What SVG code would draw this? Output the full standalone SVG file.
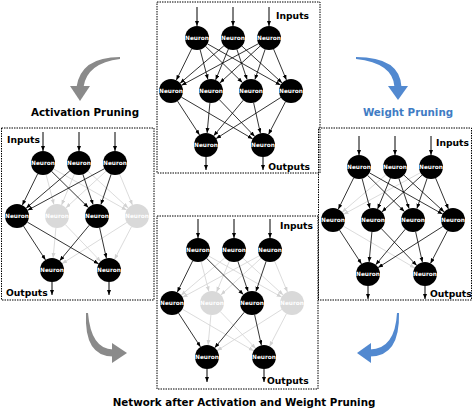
<svg xmlns="http://www.w3.org/2000/svg" width="474" height="409" viewBox="0 0 474 409">
<defs>
<marker id="ab" markerUnits="userSpaceOnUse" markerWidth="6" markerHeight="5" refX="5" refY="2" orient="auto"><path d="M0,0 L5,2 L0,4 z" fill="#000"/></marker>
<marker id="ag" markerUnits="userSpaceOnUse" markerWidth="6" markerHeight="5" refX="5" refY="2" orient="auto"><path d="M0,0 L5,2 L0,4 z" fill="#d2d2d2"/></marker>
<style>
.box{fill:none;stroke:#000;stroke-width:1;stroke-dasharray:1.5,1}
.n circle{fill:#000}
.g circle{fill:#d9d9d9}
.n text,.g text{fill:#fff;font-family:"DejaVu Sans",sans-serif;font-weight:bold;font-size:5.8px;text-anchor:middle}
.e{stroke:#000;stroke-width:0.8;marker-end:url(#ab)}
.eg{stroke:#d2d2d2;stroke-width:0.8;marker-end:url(#ag)}
.io{stroke:#000;stroke-width:1;marker-end:url(#ab)}
.lbl{font-family:"DejaVu Sans",sans-serif;font-weight:bold;font-size:9.2px;fill:#000}
.big{font-family:"DejaVu Sans",sans-serif;font-weight:bold;font-size:10.3px;text-anchor:middle}
</style>
</defs>
<rect width="474" height="409" fill="#fff"/>

<!-- boxes -->
<rect class="box" x="157" y="2" width="163" height="171"/>
<rect class="box" x="1.5" y="128" width="152.5" height="172"/>
<rect class="box" x="318.5" y="128" width="153" height="172"/>
<rect class="box" x="157" y="216" width="161" height="173"/>

<!-- big curved arrows -->
<g id="arrows">
<path d="M120,57 Q81,57 76.5,87 L83.5,87 Q87,63 120,59 Z" fill="#8a8a8a"/>
<polygon points="70,86 90,86 80,101" fill="#8a8a8a"/>
<path d="M356,57 Q400,57 401.5,87 L394.5,87 Q393,63 356,59 Z" fill="#5289d0"/>
<polygon points="388,86 408,86 398,100" fill="#5289d0"/>
<path d="M86,313 Q84,356.5 113,356.5 L113,349.5 Q91,349 88,313 Z" fill="#8a8a8a"/>
<polygon points="112,343 112,363 127,353" fill="#8a8a8a"/>
<path d="M397,313 Q395,349 370,349.5 L370,356.5 Q400,356.5 399,313 Z" fill="#5289d0"/>
<polygon points="371,343 371,363 357,353" fill="#5289d0"/>
</g>

<text class="big" x="85" y="116" fill="#000">Activation Pruning</text>
<text class="big" x="408" y="116" fill="#3f7cc4">Weight Pruning</text>
<text class="big" x="244" y="406" fill="#000">Network after Activation and Weight Pruning</text>

<!-- Top panel: original network -->
<g id="top" transform="translate(197,38)">
<g id="top-connectors">
<line class="io" x1="0" y1="-31" x2="0" y2="-12"/>
<line class="io" x1="36" y1="-31" x2="36" y2="-12"/>
<line class="io" x1="72" y1="-31" x2="72" y2="-12"/>
<line class="e" x1="-5.3" y1="10.8" x2="-20.7" y2="42.2"/>
<line class="e" x1="3.1" y1="11.6" x2="10.9" y2="41.4"/>
<line class="e" x1="8.6" y1="8.4" x2="45.4" y2="44.6"/>
<line class="e" x1="10.5" y1="5.9" x2="83.6" y2="47.1"/>
<line class="e" x1="26.9" y1="7.8" x2="-16.9" y2="45.2"/>
<line class="e" x1="31.4" y1="11.1" x2="18.6" y2="41.9"/>
<line class="e" x1="39.9" y1="11.4" x2="50.1" y2="41.6"/>
<line class="e" x1="44.9" y1="8.1" x2="85.1" y2="44.9"/>
<line class="e" x1="61.4" y1="5.7" x2="-15.4" y2="47.3"/>
<line class="e" x1="63.1" y1="8.1" x2="22.9" y2="44.9"/>
<line class="e" x1="68.1" y1="11.4" x2="57.9" y2="41.6"/>
<line class="e" x1="76.6" y1="11.1" x2="89.4" y2="41.9"/>
<line class="e" x1="-19.5" y1="63.1" x2="2.5" y2="96.9"/>
<line class="e" x1="-15.7" y1="59.1" x2="55.7" y2="100.9"/>
<line class="e" x1="12.9" y1="65" x2="10.1" y2="95"/>
<line class="e" x1="22.3" y1="61.6" x2="57.7" y2="98.4"/>
<line class="e" x1="46.3" y1="62.2" x2="16.7" y2="97.8"/>
<line class="e" x1="56.6" y1="64.7" x2="63.4" y2="95.3"/>
<line class="e" x1="83.9" y1="59.4" x2="19.1" y2="100.6"/>
<line class="e" x1="88.5" y1="63.7" x2="71.5" y2="96.4"/>
<line class="io" x1="9" y1="119" x2="9" y2="132"/>
<line class="io" x1="66" y1="119" x2="66" y2="132"/>
</g>
<g id="top-a1" class="n"><circle cx="0" cy="0" r="12"/><text x="0" y="2">Neuron</text></g>
<g id="top-a2" class="n"><circle cx="36" cy="0" r="12"/><text x="36" y="2">Neuron</text></g>
<g id="top-a3" class="n"><circle cx="72" cy="0" r="12"/><text x="72" y="2">Neuron</text></g>
<g id="top-b1" class="n"><circle cx="-26" cy="53" r="12"/><text x="-26" y="55">Neuron</text></g>
<g id="top-b2" class="n"><circle cx="14" cy="53" r="12"/><text x="14" y="55">Neuron</text></g>
<g id="top-b3" class="n"><circle cx="54" cy="53" r="12"/><text x="54" y="55">Neuron</text></g>
<g id="top-b4" class="n"><circle cx="94" cy="53" r="12"/><text x="94" y="55">Neuron</text></g>
<g id="top-c1" class="n"><circle cx="9" cy="107" r="12"/><text x="9" y="109">Neuron</text></g>
<g id="top-c2" class="n"><circle cx="66" cy="107" r="12"/><text x="66" y="109">Neuron</text></g>
</g>
<text class="lbl" x="309" y="19" text-anchor="end">Inputs</text>
<text class="lbl" x="310" y="170" text-anchor="end">Outputs</text>

<!-- Left panel: activation pruning -->
<g id="left" transform="translate(43,163)">
<g id="left-connectors">
<line class="io" x1="0" y1="-31" x2="0" y2="-12"/>
<line class="io" x1="36" y1="-31" x2="36" y2="-12"/>
<line class="io" x1="72" y1="-31" x2="72" y2="-12"/>
<line class="eg" x1="3.1" y1="11.6" x2="10.9" y2="41.4"/>
<line class="eg" x1="10.5" y1="5.9" x2="83.6" y2="47.1"/>
<line class="eg" x1="31.4" y1="11.1" x2="18.6" y2="41.9"/>
<line class="eg" x1="44.9" y1="8.1" x2="85.1" y2="44.9"/>
<line class="eg" x1="63.1" y1="8.1" x2="22.9" y2="44.9"/>
<line class="eg" x1="76.6" y1="11.1" x2="89.4" y2="41.9"/>
<line class="eg" x1="12.9" y1="65" x2="10.1" y2="95"/>
<line class="eg" x1="22.3" y1="61.6" x2="57.7" y2="98.4"/>
<line class="eg" x1="83.9" y1="59.4" x2="19.1" y2="100.6"/>
<line class="eg" x1="88.5" y1="63.7" x2="71.5" y2="96.4"/>
<line class="e" x1="-5.3" y1="10.8" x2="-20.7" y2="42.2"/>
<line class="e" x1="8.6" y1="8.4" x2="45.4" y2="44.6"/>
<line class="e" x1="26.9" y1="7.8" x2="-16.9" y2="45.2"/>
<line class="e" x1="39.9" y1="11.4" x2="50.1" y2="41.6"/>
<line class="e" x1="61.4" y1="5.7" x2="-15.4" y2="47.3"/>
<line class="e" x1="68.1" y1="11.4" x2="57.9" y2="41.6"/>
<line class="e" x1="-19.5" y1="63.1" x2="2.5" y2="96.9"/>
<line class="e" x1="-15.7" y1="59.1" x2="55.7" y2="100.9"/>
<line class="e" x1="46.3" y1="62.2" x2="16.7" y2="97.8"/>
<line class="e" x1="56.6" y1="64.7" x2="63.4" y2="95.3"/>
<line class="io" x1="9" y1="119" x2="9" y2="132"/>
<line class="io" x1="66" y1="119" x2="66" y2="132"/>
</g>
<g id="left-a1" class="n"><circle cx="0" cy="0" r="12"/><text x="0" y="2">Neuron</text></g>
<g id="left-a2" class="n"><circle cx="36" cy="0" r="12"/><text x="36" y="2">Neuron</text></g>
<g id="left-a3" class="n"><circle cx="72" cy="0" r="12"/><text x="72" y="2">Neuron</text></g>
<g id="left-b1" class="n"><circle cx="-26" cy="53" r="12"/><text x="-26" y="55">Neuron</text></g>
<g id="left-b2" class="g"><circle cx="14" cy="53" r="12"/><text x="14" y="55">Neuron</text></g>
<g id="left-b3" class="n"><circle cx="54" cy="53" r="12"/><text x="54" y="55">Neuron</text></g>
<g id="left-b4" class="g"><circle cx="94" cy="53" r="12"/><text x="94" y="55">Neuron</text></g>
<g id="left-c1" class="n"><circle cx="9" cy="107" r="12"/><text x="9" y="109">Neuron</text></g>
<g id="left-c2" class="n"><circle cx="66" cy="107" r="12"/><text x="66" y="109">Neuron</text></g>
</g>
<text class="lbl" x="7" y="143">Inputs</text>
<text class="lbl" x="6" y="296">Outputs</text>

<!-- Right panel: weight pruning -->
<g id="right" transform="translate(359,167)">
<g id="right-connectors">
<line class="io" x1="0" y1="-31" x2="0" y2="-12"/>
<line class="io" x1="36" y1="-31" x2="36" y2="-12"/>
<line class="io" x1="72" y1="-31" x2="72" y2="-12"/>
<line class="eg" x1="26.9" y1="7.8" x2="-16.9" y2="45.2"/>
<line class="eg" x1="61.4" y1="5.7" x2="-15.4" y2="47.3"/>
<line class="eg" x1="-15.7" y1="59.1" x2="55.7" y2="100.9"/>
<line class="e" x1="-5.3" y1="10.8" x2="-20.7" y2="42.2"/>
<line class="e" x1="3.1" y1="11.6" x2="10.9" y2="41.4"/>
<line class="e" x1="8.6" y1="8.4" x2="45.4" y2="44.6"/>
<line class="e" x1="10.5" y1="5.9" x2="83.6" y2="47.1"/>
<line class="e" x1="31.4" y1="11.1" x2="18.6" y2="41.9"/>
<line class="e" x1="39.9" y1="11.4" x2="50.1" y2="41.6"/>
<line class="e" x1="44.9" y1="8.1" x2="85.1" y2="44.9"/>
<line class="e" x1="63.1" y1="8.1" x2="22.9" y2="44.9"/>
<line class="e" x1="68.1" y1="11.4" x2="57.9" y2="41.6"/>
<line class="e" x1="76.6" y1="11.1" x2="89.4" y2="41.9"/>
<line class="e" x1="-19.5" y1="63.1" x2="2.5" y2="96.9"/>
<line class="e" x1="12.9" y1="65" x2="10.1" y2="95"/>
<line class="e" x1="22.3" y1="61.6" x2="57.7" y2="98.4"/>
<line class="e" x1="46.3" y1="62.2" x2="16.7" y2="97.8"/>
<line class="e" x1="56.6" y1="64.7" x2="63.4" y2="95.3"/>
<line class="e" x1="83.9" y1="59.4" x2="19.1" y2="100.6"/>
<line class="e" x1="88.5" y1="63.7" x2="71.5" y2="96.4"/>
<line class="io" x1="9" y1="119" x2="9" y2="132"/>
<line class="io" x1="66" y1="119" x2="66" y2="132"/>
</g>
<g id="right-a1" class="n"><circle cx="0" cy="0" r="12"/><text x="0" y="2">Neuron</text></g>
<g id="right-a2" class="n"><circle cx="36" cy="0" r="12"/><text x="36" y="2">Neuron</text></g>
<g id="right-a3" class="n"><circle cx="72" cy="0" r="12"/><text x="72" y="2">Neuron</text></g>
<g id="right-b1" class="n"><circle cx="-26" cy="53" r="12"/><text x="-26" y="55">Neuron</text></g>
<g id="right-b2" class="n"><circle cx="14" cy="53" r="12"/><text x="14" y="55">Neuron</text></g>
<g id="right-b3" class="n"><circle cx="54" cy="53" r="12"/><text x="54" y="55">Neuron</text></g>
<g id="right-b4" class="n"><circle cx="94" cy="53" r="12"/><text x="94" y="55">Neuron</text></g>
<g id="right-c1" class="n"><circle cx="9" cy="107" r="12"/><text x="9" y="109">Neuron</text></g>
<g id="right-c2" class="n"><circle cx="66" cy="107" r="12"/><text x="66" y="109">Neuron</text></g>
</g>
<text class="lbl" x="436" y="146">Inputs</text>
<text class="lbl" x="430" y="297">Outputs</text>

<!-- Bottom panel: both -->
<g id="bottom" transform="translate(198,250)">
<g id="bottom-connectors">
<line class="io" x1="0" y1="-31" x2="0" y2="-12"/>
<line class="io" x1="36" y1="-31" x2="36" y2="-12"/>
<line class="io" x1="72" y1="-31" x2="72" y2="-12"/>
<line class="eg" x1="3.1" y1="11.6" x2="10.9" y2="41.4"/>
<line class="eg" x1="10.5" y1="5.9" x2="83.6" y2="47.1"/>
<line class="eg" x1="26.9" y1="7.8" x2="-16.9" y2="45.2"/>
<line class="eg" x1="31.4" y1="11.1" x2="18.6" y2="41.9"/>
<line class="eg" x1="44.9" y1="8.1" x2="85.1" y2="44.9"/>
<line class="eg" x1="61.4" y1="5.7" x2="-15.4" y2="47.3"/>
<line class="eg" x1="63.1" y1="8.1" x2="22.9" y2="44.9"/>
<line class="eg" x1="76.6" y1="11.1" x2="89.4" y2="41.9"/>
<line class="eg" x1="-15.7" y1="59.1" x2="55.7" y2="100.9"/>
<line class="eg" x1="12.9" y1="65" x2="10.1" y2="95"/>
<line class="eg" x1="22.3" y1="61.6" x2="57.7" y2="98.4"/>
<line class="eg" x1="83.9" y1="59.4" x2="19.1" y2="100.6"/>
<line class="eg" x1="88.5" y1="63.7" x2="71.5" y2="96.4"/>
<line class="e" x1="-5.3" y1="10.8" x2="-20.7" y2="42.2"/>
<line class="e" x1="8.6" y1="8.4" x2="45.4" y2="44.6"/>
<line class="e" x1="39.9" y1="11.4" x2="50.1" y2="41.6"/>
<line class="e" x1="68.1" y1="11.4" x2="57.9" y2="41.6"/>
<line class="e" x1="-19.5" y1="63.1" x2="2.5" y2="96.9"/>
<line class="e" x1="46.3" y1="62.2" x2="16.7" y2="97.8"/>
<line class="e" x1="56.6" y1="64.7" x2="63.4" y2="95.3"/>
<line class="io" x1="9" y1="119" x2="9" y2="132"/>
<line class="io" x1="66" y1="119" x2="66" y2="132"/>
</g>
<g id="bottom-a1" class="n"><circle cx="0" cy="0" r="12"/><text x="0" y="2">Neuron</text></g>
<g id="bottom-a2" class="n"><circle cx="36" cy="0" r="12"/><text x="36" y="2">Neuron</text></g>
<g id="bottom-a3" class="n"><circle cx="72" cy="0" r="12"/><text x="72" y="2">Neuron</text></g>
<g id="bottom-b1" class="n"><circle cx="-26" cy="53" r="12"/><text x="-26" y="55">Neuron</text></g>
<g id="bottom-b2" class="g"><circle cx="14" cy="53" r="12"/><text x="14" y="55">Neuron</text></g>
<g id="bottom-b3" class="n"><circle cx="54" cy="53" r="12"/><text x="54" y="55">Neuron</text></g>
<g id="bottom-b4" class="g"><circle cx="94" cy="53" r="12"/><text x="94" y="55">Neuron</text></g>
<g id="bottom-c1" class="n"><circle cx="9" cy="107" r="12"/><text x="9" y="109">Neuron</text></g>
<g id="bottom-c2" class="n"><circle cx="66" cy="107" r="12"/><text x="66" y="109">Neuron</text></g>
</g>
<text class="lbl" x="280" y="229">Inputs</text>
<text class="lbl" x="267" y="384">Outputs</text>
</svg>
